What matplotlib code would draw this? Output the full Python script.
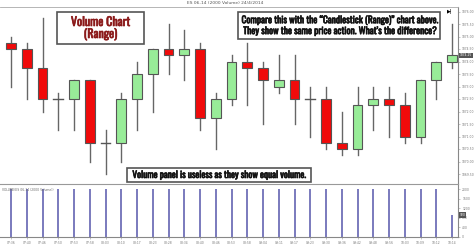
import matplotlib
matplotlib.use("Agg")
import matplotlib.pyplot as plt
from matplotlib import font_manager
from matplotlib import patheffects
from matplotlib.patches import Rectangle
import numpy as np

# OHLC of the 29 volume bars (ES 06-14, 2000 contracts each)
opens = [1874.75, 1874.5, 1873.75, 1872.5, 1872.5, 1873.25, 1870.75, 1870.75, 1872.5, 1873.5,
         1874.5, 1874.25, 1874.5, 1871.75, 1872.5, 1874.0, 1873.75, 1873.0, 1873.25, 1872.5,
         1872.5, 1870.75, 1870.5, 1872.25, 1872.5, 1872.25, 1871.0, 1873.25, 1874.0]
highs = [1875.0, 1874.75, 1875.75, 1872.75, 1873.25, 1873.25, 1871.25, 1872.75, 1874.0, 1874.5,
         1875.5, 1875.25, 1874.75, 1872.75, 1874.25, 1874.75, 1874.0, 1874.25, 1874.25, 1873.0,
         1873.0, 1872.0, 1873.0, 1873.0, 1873.0, 1872.75, 1873.25, 1874.0, 1875.5]
lows = [1873.0, 1872.5, 1872.0, 1871.25, 1871.25, 1870.0, 1869.5, 1870.0, 1871.25, 1872.0,
        1873.5, 1873.25, 1871.25, 1870.5, 1872.25, 1872.25, 1871.5, 1872.75, 1871.5, 1871.0,
        1870.5, 1870.25, 1870.25, 1871.25, 1871.0, 1870.75, 1870.75, 1872.5, 1873.75]
closes = [1874.5, 1873.75, 1872.5, 1872.5, 1873.25, 1870.75, 1870.75, 1872.5, 1873.5, 1874.5,
          1874.25, 1874.5, 1871.75, 1872.5, 1874.0, 1873.75, 1873.25, 1873.25, 1872.5, 1872.5,
          1870.75, 1870.5, 1872.25, 1872.5, 1872.25, 1871.0, 1873.25, 1874.0, 1874.25]
volumes = [2000] * 28 + [920]
times = ["07:36", "07:40", "07:46", "07:50", "07:53", "07:58", "08:03", "08:10", "08:17", "08:23",
         "08:28", "08:34", "08:40", "08:46", "08:53", "08:58", "09:04", "09:11", "09:17", "09:23",
         "09:30", "09:36", "09:42", "09:48", "09:56", "10:03", "10:09", "10:12", "10:14"]
price_ticks = np.arange(1869.5, 1876.01, 0.5)
vol_ticks = [0, 400, 800, 1200, 1600, 2000]

W, H = 474, 250
fig = plt.figure(figsize=(W / 100, H / 100), dpi=100)
fig.patch.set_facecolor("white")

def fx(px):
    return px / W

def fy(py):
    return 1 - py / H

# pick a condensed bold face for the notes if one is installed
narrow = None
for key in ["Oswald-SemiBold", "Oswald-Bold", "Oswald", "BarlowCondensed-SemiBold",
            "BarlowCondensed-Bold", "RobotoCondensed-Bold", "PTSansNarrow-Bold",
            "AsapCondensed-Bold", "DejaVuSansCondensed-Bold."]:
    for f in font_manager.fontManager.ttflist:
        if key in f.fname:
            narrow = font_manager.FontProperties(fname=f.fname)
            break
    if narrow:
        break
if narrow is None:
    narrow = font_manager.FontProperties(family="Liberation Sans", weight="bold")

ax = fig.add_axes([0, fy(184), fx(458), fy(7) - fy(184)])
axv = fig.add_axes([0, fy(237), fx(458), fy(184) - fy(237)])

x = np.arange(len(opens))
red, green = "#f00a0a", "#98ec98"
bw = 0.62
for i in x:
    o, h, l, c = opens[i], highs[i], lows[i], closes[i]
    ax.plot([i, i], [l, h], color="#666666", lw=1, zorder=1)
    if o == c:
        ax.plot([i - bw / 2, i + bw / 2], [o, o], color="#555555", lw=1, zorder=2)
    else:
        col = green if c > o else red
        ax.add_patch(Rectangle((i - bw / 2, min(o, c)), bw, abs(c - o),
                               facecolor=col, edgecolor="#555555", lw=0.8, zorder=2))

ax.set_xlim(-0.7, 28.38)
ax.set_ylim(1869.1, 1876.18)
ax.yaxis.tick_right()
ax.set_yticks(price_ticks)
ax.set_yticklabels([f"{p:.2f}" for p in price_ticks], fontsize=2.2, color="#777777")
ax.tick_params(axis="y", length=1.5, width=0.4, color="#999999", pad=1)
ax.set_xticks([])
for s in ["left", "bottom"]:
    ax.spines[s].set_visible(False)
ax.spines["top"].set_color("#aaaaaa")
ax.spines["top"].set_linewidth(0.6)
ax.spines["right"].set_color("#888888")
ax.spines["right"].set_linewidth(0.8)

# current price marker
ax.text(1.004, (closes[-1] - 1869.1) / (1876.18 - 1869.1), f"{closes[-1]:.2f}",
        transform=ax.transAxes, fontsize=2.2, color="white", va="center", ha="left",
        bbox=dict(boxstyle="square,pad=0.2", fc="#555555", ec="none"))

axv.vlines(x, 0, volumes, color="#7070b8", lw=1.3)
axv.set_xlim(-0.7, 28.38)
axv.set_ylim(0, 2210)
axv.yaxis.tick_right()
axv.set_yticks(vol_ticks)
axv.set_yticklabels([str(v) for v in vol_ticks], fontsize=2.2, color="#777777")
axv.set_xticks(x)
axv.set_xticklabels(times, fontsize=2.2, color="#777777")
axv.tick_params(axis="both", length=1.5, width=0.4, color="#999999", pad=1.5)
axv.spines["left"].set_visible(False)
axv.spines["top"].set_color("#999999")
axv.spines["top"].set_linewidth(0.8)
axv.spines["right"].set_color("#888888")
axv.spines["bottom"].set_color("#888888")
axv.text(1.004, volumes[-1] / 2210, str(volumes[-1]), transform=axv.transAxes,
         fontsize=2.2, color="white", va="center", ha="left",
         bbox=dict(boxstyle="square,pad=0.2", fc="#555555", ec="none"))
axv.text(0.004, 0.93, "VOLUME(ES 06-14 (2000 Volume))", transform=axv.transAxes,
         fontsize=2.2, color="#666666", va="top")

fig.text(fx(225), fy(3.5), "ES 06-14 (2000 Volume) 24/4/2014", fontsize=3.2,
         color="#555555", ha="center", va="center")
fig.text(fx(450), fy(12), "\u25b6|", fontsize=3.5, color="black", ha="center", va="center",
         fontweight="bold")

renderer = fig.canvas.get_renderer()

def note(x0, y0, x1, y1, txt, width, color):
    fig.patches.append(Rectangle((fx(x0), fy(y1)), fx(x1 - x0), fy(y0) - fy(y1),
                                 transform=fig.transFigure, facecolor="white",
                                 edgecolor="#555555", lw=1.2, zorder=5))
    fp = narrow.copy()
    fp.set_size(10)
    t = fig.text(fx((x0 + x1) / 2), fy((y0 + y1) / 2), txt, fontproperties=fp, color=color,
                 ha="center", va="center", linespacing=1.0, zorder=6)
    # size the text so its widest line spans the width seen in the reference
    w = t.get_window_extent(renderer).width
    t.set_fontsize(10 * width / w)
    # thicken the strokes a little, the notes use a heavy condensed face
    t.set_path_effects([patheffects.withStroke(linewidth=0.45, foreground=color)])

note(57, 12, 144, 44, "Volume Chart\n(Range)", 59, "#8b1a1a")
note(238, 12, 440, 39,
     "Compare this with the \u201cCandlestick (Range)\u201d chart above.\n"
     "They show the same price action. What\u2019s the difference?", 196, "#111111")
note(127, 168, 311, 182, "Volume panel is useless as they show equal volume.", 173, "#111111")

fig.savefig("out.png", dpi=100, facecolor="white")
